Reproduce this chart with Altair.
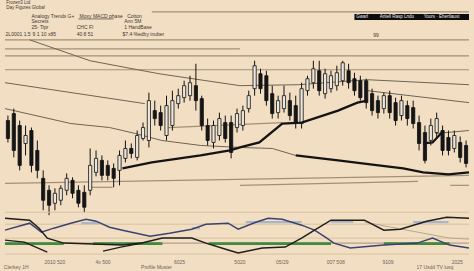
import altair as alt
import pandas as pd

BG = "#f2dfc3"

# ---------------- candle data (price units) ----------------
opens = [151, 158, 146, 128, 141, 121, 93, 81, 68, 71, 81, 91, 81, 79, 81, 99, 111, 106, 103, 101,
         113, 123, 114, 133, 131, 161, 159, 136, 146, 168, 174, 176, 186, 173, 146, 129, 136, 149, 149, 144,
         146, 163, 183, 198, 196, 178, 159, 163, 171, 166, 148, 181, 189, 201, 178, 183, 186, 191, 201, 193,
         191, 191, 178, 171, 163, 176, 169, 156, 166, 164, 149, 139, 131, 139, 141, 134, 123, 129, 126]
closes = [133, 121, 106, 136, 106, 101, 71, 66, 78, 83, 93, 78, 68, 64, 106, 113, 96, 96, 93, 116,
          123, 118, 136, 144, 171, 153, 146, 166, 171, 176, 186, 189, 171, 146, 131, 146, 153, 133, 119, 158,
          161, 176, 206, 183, 171, 158, 171, 176, 156, 148, 183, 193, 203, 181, 198, 196, 199, 209, 189, 181,
          174, 169, 161, 159, 176, 159, 151, 171, 153, 148, 128, 111, 146, 153, 121, 121, 136, 114, 108]
highs = [156, 163, 151, 146, 144, 131, 101, 86, 83, 86, 98, 94, 86, 86, 123, 121, 116, 111, 108, 121,
         131, 128, 141, 149, 179, 171, 166, 176, 181, 183, 191, 196, 208, 176, 153, 151, 159, 156, 156, 163,
         166, 181, 211, 203, 201, 186, 176, 186, 179, 176, 189, 196, 211, 211, 203, 201, 206, 211, 208, 199,
         196, 193, 183, 176, 179, 181, 174, 176, 171, 171, 156, 146, 153, 159, 146, 141, 141, 135, 131]
lows = [129, 114, 101, 116, 99, 93, 61, 56, 61, 66, 76, 73, 64, 59, 76, 95, 91, 91, 84, 86,
        109, 113, 111, 131, 124, 146, 141, 131, 141, 163, 169, 171, 161, 141, 126, 123, 131, 129, 113, 139,
        141, 159, 176, 178, 166, 153, 153, 159, 151, 143, 143, 176, 183, 176, 173, 179, 181, 186, 183, 176,
        171, 163, 156, 153, 158, 153, 146, 151, 146, 143, 121, 108, 126, 134, 116, 116, 119, 109, 104]

# ---------------- moving averages (bar index, price) ----------------
ma_thick_upper_x = [19.5, 24.5, 32.8, 37.8, 39.5, 42.8, 46.7, 50, 56.2, 59.5, 61.2]
ma_thick_upper_y = [103, 109, 116, 121, 124, 129, 148, 149, 161, 169, 171]
ma_thick_short_x = [70.7, 72.3, 74.2]
ma_thick_short_y = [128, 129, 141]
ma_thick_lower_x = [49, 56.2, 61.7, 67.3, 70.7, 75, 78.5]
ma_thick_lower_y = [116, 111, 107, 103, 99, 97, 99]

ma_t1_x = [3.7, 14, 25.7, 39.5, 49.5, 61.2, 78.5]
ma_t1_y = [232, 211, 198, 186, 187, 192, 187]
ma_t2_x = [-0.5, 23.3]
ma_t2_y = [189, 168]
ma_t3_x = [-0.5, 10.7, 17.3, 21.7, 26.2, 32.8, 39.5, 45, 49]
ma_t3_y = [163, 148, 144, 138, 131, 126, 124, 123, 116]
ma_t4_x = [61.2, 78.5]
ma_t4_y = [181, 169]
ma_t5_x = [72.8, 78.5]
ma_t5_y = [138, 141]

# ---------------- horizontal / trend lines (x1, x2, y1, y2) ----------------
hl_x1 = [24.5, -0.5, -0.5, -0.5, -0.5, -0.5, 39.5, 14, 75.3, 27.3]
hl_x2 = [78.5, 78.5, 39.5, 78.5, 78.5, 78.5, 69.8, 17.8, 78.5, 46.7]
hl_y1 = [260, 232, 223, 216, 202, 88, 86, 84, 86, 144]
hl_y2 = [260, 232, 223, 216, 202, 96, 90, 84, 86, 149]

# ---------------- oscillator (0-100) ----------------
osc_a_x = [-0.5, 3.7, 5.7, 7.8, 10.7, 13.3, 15, 17.3, 19.5, 24.2, 27.5, 31.3, 33.7, 37.5, 39.2, 42.2,
           44.3, 46.7, 50, 52.2, 54.3, 55.5, 58.3, 64, 69.7, 72.3, 75.2, 78.5]
osc_a_y = [56, 70, 52, 60, 70, 78, 74, 62, 56, 44, 50, 58, 68, 70, 58, 72,
           80, 78, 66, 56, 40, 30, 20, 26, 30, 40, 26, 20]
osc_b_x = [-0.5, 3.7, 5.3, 6.7, 9.5, 14.5, 19.5, 22.8, 26.3, 31.3, 33.7, 37.5, 39.2, 43.3, 47.2, 50,
           52.2, 55, 60.7, 64, 66.8, 71.3, 74.7, 78.5]
osc_b_y = [80, 76, 60, 40, 30, 28, 26, 30, 40, 40, 30, 16, 10, 20, 22, 40,
           56, 76, 76, 56, 58, 74, 82, 80]
osc_c1_x = [-0.5, 2.8, 6.7]
osc_c1_y = [36, 32, 12]
osc_c2_x = [16.2, 19.2, 22.8]
osc_c2_y = [14, 22, 30]
osc_d_x = [60.7, 75.2, 78.5]
osc_d_y = [72, 40, 38]
green_x1 = [-0.5, 14.5, 34.2, 64]
green_x2 = [9.5, 26.3, 55, 75.2]
green_y = [29, 29, 29, 29]
blue_x1 = [12.5, 31.3, 40.5, 55, 69]
blue_x2 = [15.5, 32.7, 50, 58.8, 75]
blue_y = [70, 60, 72, 73, 72]
osc_grid_y = [92, 68, 40, 8]
osc_zero_y = [30]

# ---------------- texts ----------------
head_text = ["Frozen3 Ltd", "Day Figures Global", "Analogy Trends G+", "Moxy MACD phase", "Cotton",
             "Secrets", "Ann 5M", "25- Tipr", "CHC FI", "1 HandBase",
             "2L0001 1.5", "9 1 10 x85", "40 8 51", "$7.4 %edby inuber", "99"]
head_x = [-0.3, -0.3, 4, 12.2, 20.3, 4, 19.8, 4, 11.7, 19.8, -0.4, 4.2, 11.7, 19.5, 62.2]
head_y = [269, 264, 256, 256, 256, 251, 251, 245, 245, 245, 238, 238, 238, 238, 237]
head_size = [4.5, 4.5, 5, 5, 5, 5, 5, 5, 5, 5, 5, 5, 5, 5, 5]

box_text = ["Gwarl", "Aritell Rasp Lndu", "Yours \u00b7 Ehertlaust"]
box_text_x = [59.3, 63.3, 70.8]
box_x = [59.0]
box_x2 = [78.5]
box_y = [258]
box_y2 = [252]

tick_text = ["Clerkey 1H", "2010 520", "4x 500", "Profile Muster", "6025", "5020", "05/29",
             "007 508", "9109", "17 Usdd TV lusq", "2025"]
tick_x = [1.4, 8, 16.2, 25.3, 29.2, 39.5, 46.7, 55.8, 64.7, 72.7, 76.5]
tick_y = [-18, -8, -8, -18, -8, -8, -8, -8, -8, -18, -8]

# ---------------- build tables ----------------
def series(**parts):
    rows = []
    for name, (xs, ys) in parts.items():
        for a, b in zip(xs, ys):
            rows.append({"line": name, "bar": a, "level": b})
    return pd.DataFrame(rows)

candles = pd.DataFrame({"bar": list(range(len(opens))), "open": opens, "close": closes,
                        "high": highs, "low": lows})
candles["dir"] = ["up" if c >= o else "down" for o, c in zip(opens, closes)]

thick = series(u=(ma_thick_upper_x, ma_thick_upper_y), s=(ma_thick_short_x, ma_thick_short_y),
               l=(ma_thick_lower_x, ma_thick_lower_y))
thin = series(t1=(ma_t1_x, ma_t1_y), t2=(ma_t2_x, ma_t2_y), t3=(ma_t3_x, ma_t3_y),
              t4=(ma_t4_x, ma_t4_y), t5=(ma_t5_x, ma_t5_y))
hlines = pd.DataFrame({"x1": hl_x1, "x2": hl_x2, "y1": hl_y1, "y2": hl_y2})

XS = alt.Scale(domain=[-0.5, 78.5], nice=False, zero=False)
PY = alt.Scale(domain=[0, 271], nice=False, zero=False)
OY = alt.Scale(domain=[-26, 516], nice=False, zero=False)
FONT = "Liberation Sans"

def xq(f):
    return alt.X(f"{f}:Q", scale=XS, axis=None)

def yq(f, s):
    return alt.Y(f"{f}:Q", scale=s, axis=None)

# main (price) layers
l_hl = alt.Chart(hlines).mark_rule(color="#a38f74", strokeWidth=1.2).encode(
    x=xq("x1"), x2="x2:Q", y=yq("y1", PY), y2="y2:Q")
l_thin = alt.Chart(thin).mark_line(color="#6f6356", strokeWidth=1).encode(
    x=xq("bar"), y=yq("level", PY), detail="line:N")
l_wick = alt.Chart(candles).mark_rule(color="#111111", strokeWidth=1).encode(
    x=xq("bar"), y=yq("low", PY), y2="high:Q")
l_body = alt.Chart(candles).mark_bar(size=3.2, stroke="#111111", strokeWidth=0.8).encode(
    x=xq("bar"), y=yq("open", PY), y2="close:Q",
    fill=alt.Fill("dir:N", scale=alt.Scale(domain=["up", "down"], range=["#ece6dc", "#151515"]),
                  legend=None))
l_thick = alt.Chart(thick).mark_line(color="#141414", strokeWidth=2.3).encode(
    x=xq("bar"), y=yq("level", PY), detail="line:N")
l_head = alt.Chart(pd.DataFrame({"t": head_text, "bar": head_x, "level": head_y,
                                 "s": head_size})).mark_text(
    align="left", baseline="middle", font=FONT, color="#3b3630").encode(
    x=xq("bar"), y=yq("level", PY), text="t:N",
    size=alt.Size("s:Q", scale=None, legend=None))
l_under = alt.Chart(pd.DataFrame({"x1": [12.0], "x2": [18.0], "y1": [253]})).mark_rule(
    color="#5a5248", strokeWidth=0.8).encode(x=xq("x1"), x2="x2:Q", y=yq("y1", PY))
l_box = alt.Chart(pd.DataFrame({"x1": box_x, "x2": box_x2, "y1": box_y, "y2": box_y2})).mark_rect(
    color="#0d0d0d").encode(x=xq("x1"), x2="x2:Q", y=yq("y1", PY), y2="y2:Q")
l_boxt = alt.Chart(pd.DataFrame({"t": box_text, "bar": box_text_x, "level": [255] * 3})).mark_text(
    align="left", baseline="middle", fontSize=4.5, font=FONT, color="#f0f0f0").encode(
    x=xq("bar"), y=yq("level", PY), text="t:N")

main = alt.layer(l_hl, l_thin, l_wick, l_body, l_thick, l_head, l_under, l_box, l_boxt)

# oscillator layers
og = pd.DataFrame({"x1": [-0.5] * len(osc_grid_y), "x2": [78.5] * len(osc_grid_y), "y1": osc_grid_y})
oz = pd.DataFrame({"x1": [-0.5], "x2": [78.5], "y1": osc_zero_y})
o_grid = alt.Chart(og).mark_rule(color="#d8c19e", strokeWidth=1).encode(
    x=xq("x1"), x2="x2:Q", y=yq("y1", OY))
o_zero = alt.Chart(oz).mark_rule(color="#8e7f6a", strokeWidth=0.8).encode(
    x=xq("x1"), x2="x2:Q", y=yq("y1", OY))
o_blue = alt.Chart(pd.DataFrame({"x1": blue_x1, "x2": blue_x2, "y1": blue_y})).mark_rule(
    color="#a9b5c6", strokeWidth=2.2).encode(x=xq("x1"), x2="x2:Q", y=yq("y1", OY))
o_green = alt.Chart(pd.DataFrame({"x1": green_x1, "x2": green_x2, "y1": green_y})).mark_rule(
    color="#3f8a3c", strokeWidth=2.6).encode(x=xq("x1"), x2="x2:Q", y=yq("y1", OY))
o_d = alt.Chart(series(d=(osc_d_x, osc_d_y))).mark_line(color="#b9a88e", strokeWidth=1).encode(
    x=xq("bar"), y=yq("level", OY))
o_a = alt.Chart(series(a=(osc_a_x, osc_a_y))).mark_line(color="#3b4270", strokeWidth=1.5).encode(
    x=xq("bar"), y=yq("level", OY))
o_b = alt.Chart(series(b=(osc_b_x, osc_b_y))).mark_line(color="#1e1e1e", strokeWidth=1.5).encode(
    x=xq("bar"), y=yq("level", OY))
o_c = alt.Chart(series(c1=(osc_c1_x, osc_c1_y), c2=(osc_c2_x, osc_c2_y))).mark_line(
    color="#1e1e1e", strokeWidth=1.4).encode(x=xq("bar"), y=yq("level", OY), detail="line:N")
o_ticks = alt.Chart(pd.DataFrame({"t": tick_text, "bar": tick_x, "level": tick_y})).mark_text(
    align="center", baseline="middle", fontSize=5, font=FONT, color="#6a625a").encode(
    x=xq("bar"), y=yq("level", OY), text="t:N")

osc = alt.layer(o_grid, o_zero, o_blue, o_green, o_d, o_a, o_b, o_c, o_ticks)

chart = alt.layer(main, osc).resolve_scale(y="independent").properties(
    width=474, height=271,
    autosize=alt.AutoSizeParams(type="fit", contains="padding"),
    padding=0, background=BG,
).configure_view(stroke=None)

chart.save("out.html", embed_options={"renderer": "svg", "actions": False})
